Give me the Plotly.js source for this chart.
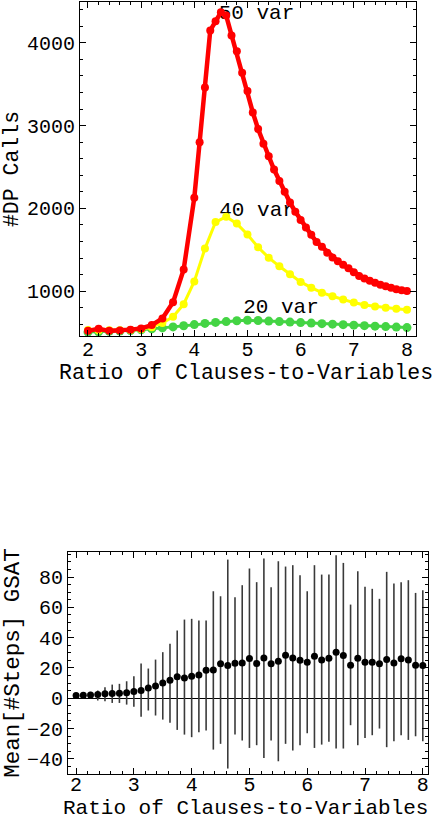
<!DOCTYPE html>
<html>
<head>
<meta charset="utf-8">
<script src="https://cdn.plot.ly/plotly-3.0.1.min.js"></script>
<style>
  html, body { margin: 0; padding: 0; background: #fff; }
  #dpChart { width: 436px; height: 820px; }
</style>
</head>
<body>
<div id="dpChart"></div>
<script>
// top panel: #DP calls vs clause/variable ratio
const ratioCoarse = [2, 2.2, 2.4, 2.6, 2.8, 3, 3.2, 3.4, 3.6, 3.8, 4, 4.2, 4.4, 4.6, 4.8, 5, 5.2, 5.4, 5.6, 5.8, 6, 6.2, 6.4, 6.6, 6.8, 7, 7.2, 7.4, 7.6, 7.8, 8];
const ratio50 = [2, 2.2, 2.4, 2.6, 2.8, 3, 3.2, 3.4, 3.6, 3.8,
    4, 4.1, 4.2, 4.3, 4.4, 4.5, 4.6, 4.7, 4.8, 4.9, 5, 5.1, 5.2, 5.3, 5.4, 5.5, 5.6, 5.7, 5.8, 5.9,
    6, 6.1, 6.2, 6.3, 6.4, 6.5, 6.6, 6.7, 6.8, 6.9, 7, 7.1, 7.2, 7.3, 7.4, 7.5, 7.6, 7.7, 7.8, 7.9, 8];
const calls50 = [520, 545, 520, 525, 535, 550, 590, 670, 865, 1262,
    2130, 2800, 3460, 4150, 4260, 4370, 4330, 4090, 3900, 3640, 3420, 3160, 2960, 2780, 2630, 2470, 2330, 2200, 2070, 1960,
    1860, 1770, 1680, 1595, 1535, 1465, 1408, 1362, 1318, 1277, 1228, 1184, 1152, 1125, 1100, 1078, 1058, 1040, 1023, 1010, 1003];
const calls40 = [530, 528, 526, 528, 532, 540, 565, 615, 690, 843, 1118, 1514, 1835, 1900, 1816, 1685, 1530, 1405, 1300, 1205,
    1112, 1042, 982, 938, 898, 862, 832, 815, 800, 786, 775];
const calls20 = [505, 510, 514, 519, 525, 533, 544, 556, 568, 582, 596, 610, 622, 632, 642, 648, 645, 638, 632, 626,
    620, 614, 607, 601, 595, 589, 583, 577, 572, 566, 560];
const curveLabels = ["50 var", "40 var", "20 var"];
const ratioTitle = "Ratio of Clauses-to-Variables";

// bottom panel: GSAT mean steps with spread
const ratioFine = [2, 2.125, 2.25, 2.375, 2.5, 2.625, 2.75, 2.875, 3, 3.125, 3.25, 3.375, 3.5, 3.625, 3.75, 3.875,
    4, 4.125, 4.25, 4.375, 4.5, 4.625, 4.75, 4.875, 5, 5.125, 5.25, 5.375, 5.5, 5.625, 5.75, 5.875,
    6, 6.125, 6.25, 6.375, 6.5, 6.625, 6.75, 6.875, 7, 7.125, 7.25, 7.375, 7.5, 7.625, 7.75, 7.875, 8];
const meanSteps = [1.8, 2.0, 2.2, 2.4, 2.9, 3.1, 3.3, 3.7, 4.4, 5.1, 6.8, 8.1, 10.1, 11.9, 14.1, 13.4,
    14.5, 15.4, 18.5, 18.7, 22.7, 21.6, 23.1, 23.3, 26.2, 22.9, 26.6, 22.7, 24.4, 28.4, 26.6, 25.1,
    23.8, 27.7, 25.3, 26.4, 30.4, 28.2, 21.8, 26.4, 23.8, 23.8, 22.7, 25.5, 23.3, 26.0, 25.3, 21.8, 21.6];
const upperSteps = [3.2, 3.6, 4.2, 5.1, 7.3, 9.0, 9.5, 11.2, 14.5, 22.9, 19.6, 25.5, 30.4, 35.9, 44.7, 51.9,
    52.4, 51.3, 51.3, 70.6, 67.3, 91.5, 66.7, 74.6, 85.6, 76.6, 92.2, 73.3, 90.4, 86.9, 87.8, 81.2,
    70.6, 87.8, 81.6, 81.6, 94.4, 89.3, 61.8, 83.8, 73.5, 72.2, 65.6, 83.4, 75.7, 76.6, 77.9, 69.5, 71.3];
const lowerSteps = [0.4, 0.3, 0, -1.5, -2.0, -3.1, -3.1, -4.2, -5.7, -12.3, -8.1, -11.4, -14.1, -16.1, -20.9, -24.0,
    -25.7, -22.4, -21.3, -33.9, -30.1, -46.4, -24.0, -27.9, -32.8, -31.0, -39.4, -27.9, -41.6, -30.1, -34.5, -31.0,
    -23.1, -32.8, -30.6, -28.8, -33.2, -33.2, -17.8, -31.0, -26.2, -24.4, -20.0, -32.3, -28.4, -24.4, -27.5, -25.1, -28.4];

function mono(size) {
    return { family: "Liberation Mono", size: size, color: "#000" };
}

function frameAxis(extra) {
    return Object.assign({
        showline: true,
        linecolor: "#000",
        linewidth: 1,
        mirror: "allticks",
        ticks: "inside",
        ticklen: 6,
        tickcolor: "#000",
        showgrid: false,
        zeroline: false,
        tickfont: mono(20),
        automargin: false,
        fixedrange: true,
    }, extra);
}

const minorTicks = (step) => ({ dtick: step, ticks: "inside", ticklen: 3, tickcolor: "#000" });

const data = [
    { // labels go first so the curves are drawn over them
        x: [5.17, 5.18, 5.63],
        y: [4349, 1976, 804],
        text: curveLabels,
        mode: "text",
        textfont: mono(21),
        xaxis: "x", yaxis: "y",
    },
    {
        x: ratioCoarse, y: calls20,
        mode: "lines+markers",
        line: { color: "#44d444", width: 3 },
        marker: { color: "#44d444", size: 9 },
        xaxis: "x", yaxis: "y",
    },
    {
        x: ratioCoarse, y: calls40,
        mode: "lines+markers",
        line: { color: "#ffff00", width: 3 },
        marker: { color: "#ffff00", size: 8 },
        xaxis: "x", yaxis: "y",
    },
    {
        x: ratio50, y: calls50,
        mode: "lines+markers",
        line: { color: "#ff0000", width: 4.5 },
        marker: { color: "#ff0000", size: 8 },
        xaxis: "x", yaxis: "y",
    },
    {
        x: ratioFine, y: meanSteps,
        mode: "markers",
        marker: { color: "#000", size: 7 },
        error_y: {
            type: "data",
            symmetric: false,
            array: upperSteps.map((u, i) => u - meanSteps[i]),
            arrayminus: lowerSteps.map((l, i) => meanSteps[i] - l),
            color: "#3a3a3a",
            thickness: 1.6,
            width: 0,
        },
        xaxis: "x2", yaxis: "y2",
    },
];

const layout = {
    width: 436,
    height: 820,
    margin: { l: 0, r: 0, t: 0, b: 0 },
    paper_bgcolor: "#fff",
    plot_bgcolor: "#fff",
    showlegend: false,
    font: mono(20),
    xaxis: frameAxis({
        domain: [80 / 436, 416 / 436],
        anchor: "y",
        range: [1.85, 8.17],
        dtick: 1,
        ticklabelstandoff: -5, // pull labels up to sit like the original
        minor: minorTicks(0.2),
    }),
    yaxis: frameAxis({
        domain: [1 - 336 / 820, 1 - 2 / 820],
        anchor: "x",
        range: [458, 4494],
        tickvals: [1000, 2000, 3000, 4000],
        minor: minorTicks(200),
        title: { text: "#DP Calls", font: mono(21.5), standoff: 10 },
    }),
    xaxis2: frameAxis({
        domain: [68 / 436, 428 / 436],
        anchor: "y2",
        range: [1.86, 8.09],
        dtick: 1,
        ticklabelstandoff: -8,
        minor: minorTicks(0.2),
    }),
    yaxis2: frameAxis({
        domain: [1 - 774 / 820, 1 - 552 / 820],
        anchor: "x2",
        range: [-50, 96.5],
        tickvals: [-40, -20, 0, 20, 40, 60, 80],
        minor: minorTicks(5),
        zeroline: true,
        zerolinecolor: "#000",
        zerolinewidth: 1,
        title: { text: "Mean[#Steps] GSAT", font: mono(22.5), standoff: 10 },
    }),
    // x titles placed as annotations, the bottom one sits right at the page edge
    annotations: [
        { text: ratioTitle, xref: "paper", yref: "paper", x: 246 / 436, y: 1 - 373 / 820,
          xanchor: "center", yanchor: "middle", showarrow: false, font: mono(21.5) },
        { text: ratioTitle, xref: "paper", yref: "paper", x: 246 / 436, y: 1 - 808 / 820,
          xanchor: "center", yanchor: "middle", showarrow: false, font: mono(21) },
    ],
};

Plotly.newPlot("dpChart", data, layout, { staticPlot: true, displayModeBar: false });
</script>
</body>
</html>
